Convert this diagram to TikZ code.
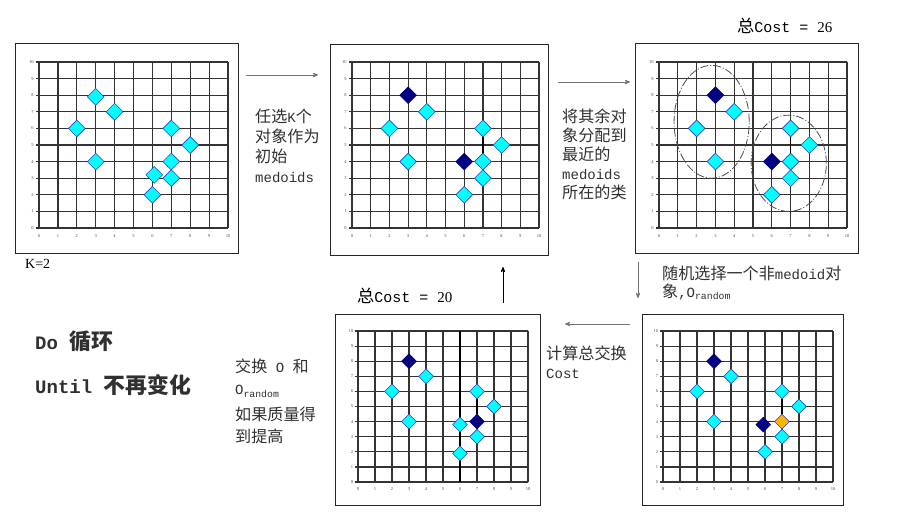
\documentclass[tikz,border=0pt]{standalone}
\usepackage{fontspec}
\setmainfont{Liberation Serif}
\setmonofont{Liberation Mono}
\newfontfamily\cjk{Noto Sans CJK SC}[Scale=1.15]
\usetikzlibrary{arrows,shapes.geometric}

\definecolor{ptcyan}{HTML}{00FFFF}
\definecolor{ptblue}{HTML}{3040C0}
\definecolor{mednavy}{HTML}{000080}
\definecolor{swporange}{HTML}{FFB400}
\definecolor{txtgray}{HTML}{303030}

% grid of one small plot, in the units of its scope
\newcommand\plotgrid{%
 \foreach \i in {0,...,10}{
   \draw[gridline] (\i,0) -- (\i,10);
   \draw[gridline] (-0.15,\i) -- (10,\i);
   \node[ticklab,anchor=north] (xt\i) at (\i,-0.35) {\i};
   \node[ticklab,anchor=east]  (yt\i) at (-0.25,\i) {\i};
 }}

\begin{document}
\begin{tikzpicture}[x=1pt,y=-1pt,>=stealth',
  gridline/.style={black!80,line width=1.2pt},
  ticklab/.style={inner sep=0.5pt,font=\fontsize{4.5}{5}\selectfont,text=black!70},
  panelbox/.style={draw=black!85,line width=0.8pt},
  pt/.style={diamond,draw=ptblue,fill=ptcyan,inner sep=0,minimum width=17pt,minimum height=17pt,line width=0.6pt},
  ptsmall/.style={pt,minimum width=15pt,minimum height=15pt},
  med/.style={fill=mednavy,draw=mednavy},
  swp/.style={fill=swporange},
  flow/.style={->,black!55,line width=0.8pt},
  note/.style={inner sep=0,anchor=north west,align=left,text=txtgray,font=\ttfamily\fontsize{14}{20}\selectfont},
  cluster/.style={black!70,line width=0.8pt,dash pattern=on 8pt off 2pt on 1pt off 2pt}]

 \useasboundingbox (0,0) rectangle (907,522);

 % panel 1: the data
 \draw[panelbox] (15,43) rectangle (238,253);
 \begin{scope}[shift={(39,228)},x=18.9pt,y=16.6pt]
  \plotgrid
  \node[pt] (a1) at (3,7.9) {};
  \node[pt] (a2) at (4,7)   {};
  \node[pt] (a3) at (2,6)   {};
  \node[pt] (a4) at (3,4)   {};
  \node[pt] (a5) at (7,6)   {};
  \node[pt] (a6) at (8,5)   {};
  \node[pt] (a7) at (7,4)   {};
  \node[pt] (a8) at (6.1,3.2) {};
  \node[pt] (a9) at (7,3)   {};
  \node[pt] (a10) at (6,2)  {};
 \end{scope}
 \node[inner sep=0,anchor=west,font=\fontsize{14}{16}\selectfont] (k) at (25,264) {K=2};

 % panel 2: two medoids chosen
 \draw[panelbox] (330,44) rectangle (548,255);
 \begin{scope}[shift={(352,228)},x=18.7pt,y=16.6pt]
  \plotgrid
  \node[pt,med] (b1) at (3,8) {};
  \node[pt] (b2) at (4,7) {};
  \node[pt] (b3) at (2,6) {};
  \node[pt] (b4) at (3,4) {};
  \node[pt] (b5) at (7,6) {};
  \node[pt] (b6) at (8,5) {};
  \node[pt] (b7) at (7,4) {};
  \node[pt,med] (b8) at (6,4) {};
  \node[pt] (b9) at (7,3) {};
  \node[pt] (b10) at (6,2) {};
  \draw[line width=1.4pt] (b5) -- (b7);
 \end{scope}

 % panel 3: clusters
 \draw[panelbox] (635,43) rectangle (858,253);
 \begin{scope}[shift={(659,228)},x=18.8pt,y=16.6pt]
  \plotgrid
  \node[pt,med] (c1) at (3,8) {};
  \node[pt] (c2) at (4,7) {};
  \node[pt] (c3) at (2,6) {};
  \node[pt] (c4) at (3,4) {};
  \node[pt] (c5) at (7,6) {};
  \node[pt] (c6) at (8,5) {};
  \node[pt] (c7) at (7,4) {};
  \node[pt,med] (c8) at (6,4) {};
  \node[pt] (c9) at (7,3) {};
  \node[pt] (c10) at (6,2) {};
  \draw[line width=1pt] (c5) -- (c7);
  \draw[cluster] (2.8,6.4) ellipse [x radius=2,y radius=3.4];
  \draw[cluster] (6.9,3.9) ellipse [x radius=2,y radius=2.9];
 \end{scope}
 \node[inner sep=0,anchor=west,font=\fontsize{15}{16}\selectfont] (cost26) at (737,26) {{\cjk 总}\texttt{Cost = }26};

 % panel 5: random non-medoid
 \draw[panelbox] (642,314) rectangle (843,505);
 \begin{scope}[shift={(663,482)},x=17pt,y=15.1pt]
  \plotgrid
  \node[ptsmall,med] (e1) at (3,8) {};
  \node[ptsmall] (e2) at (4,7) {};
  \node[ptsmall] (e3) at (2,6) {};
  \node[ptsmall] (e4) at (3,4) {};
  \node[ptsmall] (e5) at (7,6) {};
  \node[ptsmall] (e6) at (8,5) {};
  \node[ptsmall,swp] (e7) at (7,4) {};
  \node[ptsmall,med] (e8) at (5.9,3.8) {};
  \node[ptsmall] (e9) at (7,3) {};
  \node[ptsmall] (e10) at (6,2) {};
  \draw[line width=1.2pt] (e5) -- (e7);
 \end{scope}

 % panel 4: after the swap
 \draw[panelbox] (335,314) rectangle (540,505);
 \begin{scope}[shift={(358,482)},x=17pt,y=15.1pt]
  \plotgrid
  \draw[black,line width=1.4pt] (6,0) -- (6,10);
  \node[ptsmall,med] (d1) at (3,8) {};
  \node[ptsmall] (d2) at (4,7) {};
  \node[ptsmall] (d3) at (2,6) {};
  \node[ptsmall] (d4) at (3,4) {};
  \node[ptsmall] (d5) at (7,6) {};
  \node[ptsmall] (d6) at (8,5) {};
  \node[ptsmall,med] (d7) at (7,4) {};
  \node[ptsmall] (d8) at (6,3.8) {};
  \node[ptsmall] (d9) at (7,3) {};
  \node[ptsmall] (d10) at (6,1.9) {};
  \draw[line width=1.2pt] (d5) -- (d7);
 \end{scope}
 \node[inner sep=0,anchor=west,font=\fontsize{15}{16}\selectfont] (cost20) at (357,296) {{\cjk 总}\texttt{Cost = }20};

 % arrows between the steps
 \coordinate (s1) at (246,75);  \coordinate (e1x) at (318,75);
 \coordinate (s2) at (558,82);  \coordinate (e2x) at (630,82);
 \coordinate (s3) at (638,262); \coordinate (e3x) at (638,298);
 \coordinate (s4) at (630,324); \coordinate (e4x) at (565,324);
 \coordinate (s5) at (503,303); \coordinate (e5x) at (503,267);
 \draw[flow] (s1) -- (e1x);
 \draw[flow] (s2) -- (e2x);
 \draw[flow] (s3) -- (e3x);
 \draw[flow] (s4) -- (e4x);
 \draw[->,black,line width=0.8pt] (s5) -- (e5x);

 % step texts
 \node[note] (t1) at (255,109) {{\cjk 任选}K{\cjk 个}\\{\cjk 对象作为}\\{\cjk 初始}\\medoids};
 \node[note,font=\ttfamily\fontsize{14}{19}\selectfont] (t2) at (562,109)
   {{\cjk 将其余对}\\{\cjk 象分配到}\\{\cjk 最近的}\\medoids\\{\cjk 所在的类}};
 \node[note,font=\ttfamily\fontsize{14}{18}\selectfont] (t3) at (662,266)
   {{\cjk 随机选择一个非}medoid{\cjk 对}\\{\cjk 象},O\textsubscript{random}};
 \node[note,font=\ttfamily\fontsize{14}{19}\selectfont] (t5) at (546,346) {{\cjk 计算总交换}\\Cost};
 \node[note,font=\ttfamily\fontsize{14}{22}\selectfont] (t4) at (235,359)
   {{\cjk 交换} O {\cjk 和}\\O\textsubscript{random}\\[4pt]{\cjk 如果质量得}\\{\cjk 到提高}};

 % loop
 \node[note,font=\ttfamily\bfseries\fontsize{19}{44}\selectfont] (loop) at (35,331)
   {Do {\cjk 循环}\\Until {\cjk 不再变化}};
\end{tikzpicture}
\end{document}
